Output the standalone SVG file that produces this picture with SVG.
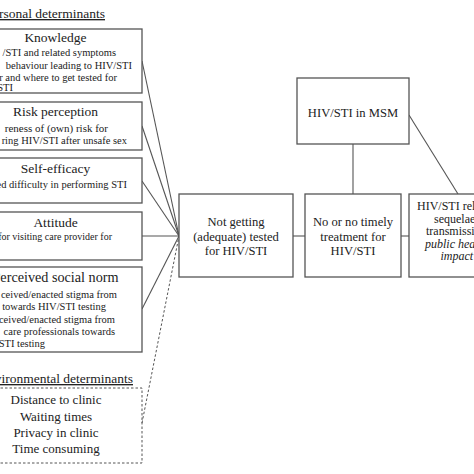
<svg xmlns="http://www.w3.org/2000/svg" width="474" height="474" viewBox="0 0 474 474">
<style>
text{font-family:"Liberation Serif","Times New Roman",serif;fill:#222}
.box{fill:#fff;stroke:#555;stroke-width:1.3}
.dbox{fill:none;stroke:#555;stroke-width:1;stroke-dasharray:2.5 2}
.ln{fill:none;stroke:#555;stroke-width:1.1}
.dl{fill:none;stroke:#555;stroke-width:1;stroke-dasharray:2.5 2}
.t{font-size:13.5px;text-anchor:middle}
.b{font-size:10.5px;text-anchor:end}
.c{font-size:12.6px;text-anchor:middle}
.e{font-size:13px;text-anchor:middle}
.h{font-size:13.5px;text-decoration:underline;text-anchor:end}
.r{font-size:12px}
.i{font-style:italic}
</style>
<rect width="474" height="474" fill="#fff"/>
<g id="connectors">
<line class="ln" x1="142" y1="61" x2="179" y2="236"/>
<line class="ln" x1="142" y1="126" x2="179" y2="236"/>
<line class="ln" x1="142" y1="181" x2="179" y2="236"/>
<line class="ln" x1="142" y1="236" x2="179" y2="236"/>
<line class="ln" x1="142" y1="309" x2="179" y2="236"/>
<line class="dl" x1="142" y1="423" x2="179" y2="236"/>
<line class="ln" x1="293" y1="236" x2="305" y2="236"/>
<line class="ln" x1="401" y1="236" x2="409" y2="236"/>
<line class="ln" x1="353" y1="144" x2="353" y2="194"/>
<line class="ln" x1="409" y1="115" x2="458" y2="194"/>
</g>
<g id="personal-title"><text class="h" x="105" y="18">rsonal determinants</text></g>
<g id="knowledge">
<rect class="box" x="-31" y="29" width="173" height="64"/>
<text class="t" x="55.5" y="42">Knowledge</text>
<text class="b" x="116" y="56">/STI and related symptoms</text>
<text class="b" x="132" y="68.5">behaviour leading to HIV/STI</text>
<text class="b" x="117" y="81">r and where to get tested for</text>
<text class="b" x="13" y="91">STI</text>
</g>
<g id="risk-perception">
<rect class="box" x="-31" y="102" width="173" height="48"/>
<text class="t" x="55.5" y="116">Risk perception</text>
<text class="b" x="108" y="132" style="font-size:11px">reness of (own) risk for</text>
<text class="b" x="127" y="143.5">ring HIV/STI after unsafe sex</text>
</g>
<g id="self-efficacy">
<rect class="box" x="-31" y="158" width="173" height="45"/>
<text class="t" x="55.5" y="173">Self-efficacy</text>
<text class="b" x="127" y="188">cted difficulty in performing STI</text>
</g>
<g id="attitude">
<rect class="box" x="-31" y="212" width="173" height="48"/>
<text class="t" x="55.5" y="227">Attitude</text>
<text class="b" x="112" y="240" style="font-size:10px">for visiting care provider for</text>
</g>
<g id="social-norm">
<rect class="box" x="-31" y="267" width="173" height="85"/>
<text class="t" x="55.5" y="282" style="font-size:14.2px">Perceived social norm</text>
<text class="b" x="117" y="298">ceived/enacted stigma  from</text>
<text class="b" x="106" y="310">towards HIV/STI testing</text>
<text class="b" x="115" y="323">ceived/enacted stigma from</text>
<text class="b" x="115" y="335">care professionals towards</text>
<text class="b" x="45" y="346.5">STI testing</text>
</g>
<g id="environmental">
<text class="h" x="133" y="383">vironmental determinants</text>
<rect class="dbox" x="-31" y="388" width="173" height="75"/>
<text class="e" x="56" y="404">Distance to clinic</text>
<text class="e" x="56" y="421">Waiting times</text>
<text class="e" x="56" y="437">Privacy in clinic</text>
<text class="e" x="56" y="453">Time consuming</text>
</g>
<g id="not-tested">
<rect class="box" x="179" y="194" width="114" height="83"/>
<text class="c" x="236" y="226">Not getting</text>
<text class="c" x="236" y="240.5">(adequate) tested</text>
<text class="c" x="236" y="255">for HIV/STI</text>
</g>
<g id="no-treatment">
<rect class="box" x="305" y="194" width="96" height="83"/>
<text class="c" x="353" y="226">No or no timely</text>
<text class="c" x="353" y="240.5">treatment for</text>
<text class="c" x="353" y="255">HIV/STI</text>
</g>
<g id="hiv-msm">
<rect class="box" x="297" y="78" width="112" height="66"/>
<text class="c" x="353" y="117">HIV/STI in MSM</text>
</g>
<g id="sequelae">
<rect class="box" x="409" y="194" width="100" height="83"/>
<text class="r" x="417" y="210">HIV/STI related</text>
<text class="r" x="434" y="222.5">sequelae and</text>
<text class="r" x="426" y="235">transmission:</text>
<text class="r i" x="425" y="247.5">public health</text>
<text class="r i" x="440.5" y="260">impact</text>
</g>
</svg>
